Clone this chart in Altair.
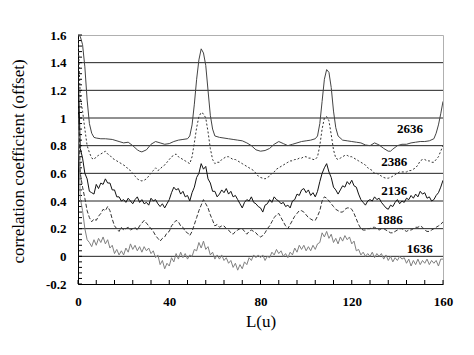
import altair as alt
import pandas as pd

# ---------------- data ----------------
u_grid = list(range(161))

u_2636 = [0, 1, 2, 3, 4, 5, 6, 7, 8, 10, 12, 15, 18, 20, 22, 24, 26, 27, 28,
          30, 32, 34, 36, 38, 40, 42, 44, 46, 48, 49, 50, 51, 52, 53, 54, 55, 56, 57, 58,
          59, 60, 62, 64, 66, 68, 70, 72, 74, 76, 78, 80, 82, 84, 86, 88, 90, 92, 94, 96,
          98, 100, 102, 104, 105, 106, 107, 108, 109, 110, 111, 112, 113, 114, 116, 118, 120, 122, 124, 126,
          128, 130, 132, 134, 136, 137, 138, 140, 142, 144, 146, 148, 150, 152, 154, 156, 157, 158, 159, 160]
c_2636 = [1.60, 1.59, 1.53, 1.37, 1.13, 0.96, 0.89, 0.86, 0.855,
          0.85, 0.85, 0.845, 0.83, 0.82, 0.825, 0.80, 0.77, 0.76, 0.755,
          0.77, 0.81, 0.83, 0.82, 0.81, 0.815, 0.83, 0.84, 0.845, 0.85,
          0.87, 0.95, 1.10, 1.28, 1.42, 1.50, 1.47, 1.38, 1.20, 1.02,
          0.92, 0.87, 0.86, 0.855, 0.85, 0.845, 0.84, 0.835, 0.82, 0.80,
          0.77, 0.76, 0.765, 0.78, 0.81, 0.83, 0.815, 0.80, 0.81, 0.82,
          0.83, 0.835, 0.84, 0.85, 0.87, 0.96, 1.12, 1.28, 1.35, 1.33,
          1.22, 1.05, 0.93, 0.87, 0.84, 0.835, 0.83, 0.825, 0.82, 0.805,
          0.80, 0.82, 0.805, 0.78, 0.76, 0.76, 0.775, 0.80, 0.81, 0.81,
          0.82, 0.825, 0.83, 0.83, 0.835, 0.85, 0.89, 0.95, 1.03, 1.12]

c_2386 = [1.60, 1.15, 1.05, 0.92, 0.80, 0.75, 0.71, 0.70, 0.72, 0.73,
          0.74, 0.75, 0.76, 0.74, 0.73, 0.71, 0.70, 0.69, 0.68, 0.67,
          0.66, 0.65, 0.63, 0.62, 0.60, 0.58, 0.56, 0.55, 0.545, 0.55,
          0.56, 0.58, 0.60, 0.62, 0.64, 0.62, 0.63, 0.65, 0.66, 0.68,
          0.70, 0.72, 0.73, 0.74, 0.72, 0.71, 0.70, 0.69, 0.68, 0.67,
          0.72, 0.82, 0.93, 1.01, 1.04, 1.03, 1.00, 0.90, 0.78, 0.70,
          0.67, 0.68, 0.68, 0.70, 0.71, 0.72, 0.72, 0.71, 0.70, 0.70,
          0.69, 0.68, 0.67, 0.66, 0.65, 0.64, 0.63, 0.62, 0.60, 0.58,
          0.57, 0.565, 0.56, 0.57, 0.58, 0.60, 0.61, 0.63, 0.64, 0.65,
          0.66, 0.67, 0.68, 0.69, 0.69, 0.70, 0.70, 0.71, 0.71, 0.72,
          0.72, 0.71, 0.71, 0.70, 0.70, 0.72, 0.80, 0.92, 1.00, 1.01,
          0.98, 0.88, 0.77, 0.71, 0.70, 0.71, 0.72, 0.73, 0.73, 0.72,
          0.72, 0.71, 0.70, 0.69, 0.68, 0.67, 0.66, 0.64, 0.63, 0.62,
          0.60, 0.60, 0.59, 0.58, 0.57, 0.565, 0.565, 0.57, 0.58, 0.59,
          0.60, 0.61, 0.61, 0.61, 0.61, 0.62, 0.62, 0.63, 0.64, 0.66,
          0.69, 0.70, 0.70, 0.69, 0.69, 0.68, 0.68, 0.70, 0.72, 0.76,
          0.80]

c_2136 = [1.40, 0.78, 0.71, 0.60, 0.56, 0.47, 0.46, 0.45, 0.52, 0.49,
          0.53, 0.52, 0.56, 0.53, 0.53, 0.48, 0.48, 0.43, 0.43, 0.40,
          0.41, 0.39, 0.42, 0.40, 0.38, 0.41, 0.43, 0.39, 0.41, 0.38,
          0.39, 0.37, 0.42, 0.40, 0.41, 0.38, 0.36, 0.38, 0.35, 0.38,
          0.41, 0.46, 0.50, 0.48, 0.49, 0.45, 0.47, 0.43, 0.44, 0.40,
          0.46, 0.50, 0.57, 0.60, 0.67, 0.63, 0.65, 0.56, 0.53, 0.47,
          0.47, 0.43, 0.45, 0.48, 0.46, 0.49, 0.45, 0.47, 0.43, 0.44,
          0.41, 0.38, 0.35, 0.39, 0.41, 0.40, 0.43, 0.39, 0.38, 0.36,
          0.35, 0.32, 0.37, 0.38, 0.41, 0.39, 0.43, 0.41, 0.40, 0.38,
          0.39, 0.36, 0.37, 0.35, 0.40, 0.41, 0.45, 0.44, 0.48, 0.49,
          0.46, 0.48, 0.44, 0.46, 0.43, 0.47, 0.54, 0.60, 0.64, 0.67,
          0.61, 0.57, 0.50, 0.48, 0.45, 0.48, 0.51, 0.50, 0.54, 0.52,
          0.55, 0.51, 0.50, 0.45, 0.41, 0.39, 0.37, 0.40, 0.41, 0.40,
          0.43, 0.41, 0.42, 0.39, 0.37, 0.35, 0.34, 0.37, 0.36, 0.39,
          0.41, 0.38, 0.40, 0.39, 0.42, 0.41, 0.44, 0.42, 0.45, 0.43,
          0.47, 0.45, 0.46, 0.42, 0.43, 0.40, 0.41, 0.44, 0.46, 0.50,
          0.55]

c_1886 = [1.20, 0.60, 0.50, 0.42, 0.33, 0.28, 0.25, 0.27, 0.26, 0.29,
          0.31, 0.34, 0.33, 0.36, 0.33, 0.27, 0.22, 0.20, 0.18, 0.21,
          0.19, 0.20, 0.21, 0.19, 0.20, 0.21, 0.19, 0.22, 0.24, 0.26,
          0.24, 0.22, 0.20, 0.18, 0.15, 0.13, 0.11, 0.13, 0.14, 0.17,
          0.18, 0.22, 0.24, 0.26, 0.25, 0.22, 0.21, 0.18, 0.17, 0.15,
          0.18, 0.23, 0.28, 0.33, 0.37, 0.41, 0.38, 0.35, 0.30, 0.26,
          0.22, 0.23, 0.21, 0.22, 0.22, 0.20, 0.19, 0.17, 0.16, 0.18,
          0.19, 0.20, 0.20, 0.18, 0.16, 0.18, 0.19, 0.18, 0.17, 0.15,
          0.14, 0.15, 0.17, 0.20, 0.22, 0.25, 0.28, 0.30, 0.31, 0.28,
          0.25, 0.22, 0.20, 0.23, 0.26, 0.29, 0.31, 0.33, 0.33, 0.32,
          0.30, 0.28, 0.27, 0.26, 0.26, 0.29, 0.33, 0.40, 0.43, 0.42,
          0.40, 0.38, 0.36, 0.34, 0.33, 0.32, 0.32, 0.34, 0.35, 0.35,
          0.34, 0.31, 0.27, 0.23, 0.20, 0.19, 0.19, 0.20, 0.20, 0.21,
          0.21, 0.20, 0.19, 0.20, 0.20, 0.19, 0.18, 0.17, 0.17, 0.18,
          0.19, 0.20, 0.20, 0.19, 0.18, 0.19, 0.19, 0.20, 0.21, 0.21,
          0.22, 0.21, 0.19, 0.18, 0.18, 0.19, 0.20, 0.21, 0.22, 0.23,
          0.25]

c_1636 = [1.00, 0.42, 0.33, 0.20, 0.12, 0.10, 0.07, 0.12, 0.08, 0.13,
          0.10, 0.14, 0.09, 0.12, 0.06, 0.08, 0.02, 0.05, 0.01, 0.04,
          0.01, 0.06, 0.03, 0.09, 0.05, 0.08, 0.04, 0.07, 0.03, 0.07,
          0.04, 0.06, 0.02, 0.04, -0.01, 0.01, -0.06, -0.03, -0.09, -0.05,
          -0.07, -0.01, -0.04, 0.02, -0.02, 0.03, -0.01, 0.02, -0.02, 0.01,
          0.00, 0.05, 0.04, 0.10, 0.06, 0.11, 0.05, 0.07, 0.01, 0.03,
          -0.02, 0.01, -0.02, 0.01, -0.03, -0.01, -0.05, -0.03, -0.08, -0.05,
          -0.10, -0.06, -0.09, -0.04, -0.06, -0.01, -0.03, 0.01, -0.01, 0.01,
          -0.01, 0.01, -0.03, 0.00, -0.01, 0.03, 0.01, 0.05, 0.02, 0.04,
          0.00, 0.02, -0.01, 0.03, 0.01, 0.06, 0.03, 0.08, 0.05, 0.08,
          0.04, 0.07, 0.04, 0.08, 0.05, 0.09, 0.10, 0.17, 0.14, 0.18,
          0.13, 0.16, 0.10, 0.13, 0.09, 0.14, 0.11, 0.15, 0.12, 0.14,
          0.09, 0.11, 0.04, 0.05, 0.01, 0.03, 0.00, 0.02, 0.00, 0.03,
          -0.01, 0.02, 0.00, 0.02, -0.02, 0.01, -0.03, 0.00, -0.04, -0.01,
          -0.03, 0.00, -0.02, -0.01, -0.05, -0.02, -0.07, -0.03, -0.06, -0.02,
          -0.06, -0.03, -0.05, -0.02, -0.06, -0.03, -0.05, -0.03, -0.07, -0.02,
          -0.02]

label_text = ["2636", "2386", "2136", "1886", "1636"]
label_u = [145.5, 138.6, 138.6, 136.7, 149.8]
label_v = [0.92, 0.68, 0.47, 0.26, 0.05]

grid_values = [0, 0.2, 0.4, 0.6, 0.8, 1.0, 1.2, 1.4]
y_tick_values = [-0.2, 0, 0.2, 0.4, 0.6, 0.8, 1.0, 1.2, 1.4, 1.6]
x_tick_values = [0, 40, 80, 120, 160]
x_minor = [0, 8, 16, 24, 32, 40, 48, 56, 64, 72, 80, 88, 96, 104, 112, 120, 128, 136, 144, 152, 160]
y_minor = [-0.2, -0.16, -0.12, -0.08, -0.04, 0, 0.04, 0.08, 0.12, 0.16, 0.2, 0.24, 0.28, 0.32,
           0.36, 0.4, 0.44, 0.48, 0.52, 0.56, 0.6, 0.64, 0.68, 0.72, 0.76, 0.8, 0.84, 0.88,
           0.92, 0.96, 1.0, 1.04, 1.08, 1.12, 1.16, 1.2, 1.24, 1.28, 1.32, 1.36, 1.4, 1.44,
           1.48, 1.52, 1.56, 1.6]

# ---------------- chart ----------------
W, H = 365, 249
FONT = "Liberation Serif"

xs = alt.Scale(domain=[0, 160], nice=False, zero=False)
ys = alt.Scale(domain=[-0.2, 1.6], nice=False, zero=False)

x_axis = alt.Axis(values=x_tick_values, ticks=False, grid=False, labelPadding=11,
                  labelFontSize=13, labelFont=FONT, labelColor="black", labelFontWeight="bold",
                  labelOverlap=False, labelFlush=False, labelBound=False,
                  domainColor="black", title="L(u)", titleFont=FONT, titleFontSize=17,
                  titleFontWeight="normal", titleColor="black", titleY=37,
                  titleBaseline="middle")
y_axis = alt.Axis(values=y_tick_values, ticks=False, grid=False, labelPadding=12,
                  labelFontSize=13, labelFont=FONT, labelColor="black", labelFontWeight="bold",
                  labelOverlap=False, labelFlush=False, labelBound=False,
                  labelExpr="datum.value < 0 ? '-' + format(-datum.value, '~g') : format(datum.value, '~g')",
                  domainColor="black", title="correlation coefficient (offset)",
                  titleFont=FONT, titleFontSize=17, titleFontWeight="normal",
                  titleColor="black", titleX=-60, titleY=126, titleAngle=270,
                  titleAlign="center", titleBaseline="middle")

X = lambda f: alt.X(f, scale=xs, axis=x_axis)
Y = lambda f: alt.Y(f, scale=ys, axis=y_axis)

grid = alt.Chart(pd.DataFrame({"v": grid_values})).mark_rule(
    color="#222", strokeWidth=1).encode(y=Y("v:Q"))

xt = alt.Chart(pd.DataFrame({"u": x_minor})).mark_rule(color="black").encode(
    x=X("u:Q"), y=alt.value(H), y2=alt.value(H - 4))
yt = alt.Chart(pd.DataFrame({"v": y_minor})).mark_rule(color="black").encode(
    y=Y("v:Q"), x=alt.value(0), x2=alt.value(4))


def line(u, c, color, dash=None, width=1.0):
    df = pd.DataFrame({"u": u, "c": c})
    kw = dict(color=color, strokeWidth=width, clip=True)
    if dash:
        kw["strokeDash"] = dash
    return alt.Chart(df).mark_line(**kw).encode(x=X("u:Q"), y=Y("c:Q"))


l2636 = line(u_2636, c_2636, "#444")
l2386 = line(u_grid, c_2386, "#333", dash=[2, 2])
l2136 = line(u_grid, c_2136, "#111")
l1886 = line(u_grid, c_1886, "#333", dash=[4, 2])
l1636 = line(u_grid, c_1636, "#808080")

labels = alt.Chart(pd.DataFrame({"u": label_u, "v": label_v, "t": label_text})).mark_text(
    font=FONT, fontSize=13, fontWeight="bold", color="black", align="center",
    baseline="middle").encode(x=X("u:Q"), y=Y("v:Q"), text="t:N")

chart = alt.layer(grid, xt, yt, l1636, l1886, l2136, l2386, l2636, labels).properties(
    width=W, height=H,
    autosize=alt.AutoSizeParams(type="none"),
    padding={"left": 78, "top": 35, "right": 31, "bottom": 71},
    background="white",
).configure_view(stroke="#b0b0b0", strokeWidth=1)

chart.save("out.html", embed_options={"renderer": "svg", "actions": False})
